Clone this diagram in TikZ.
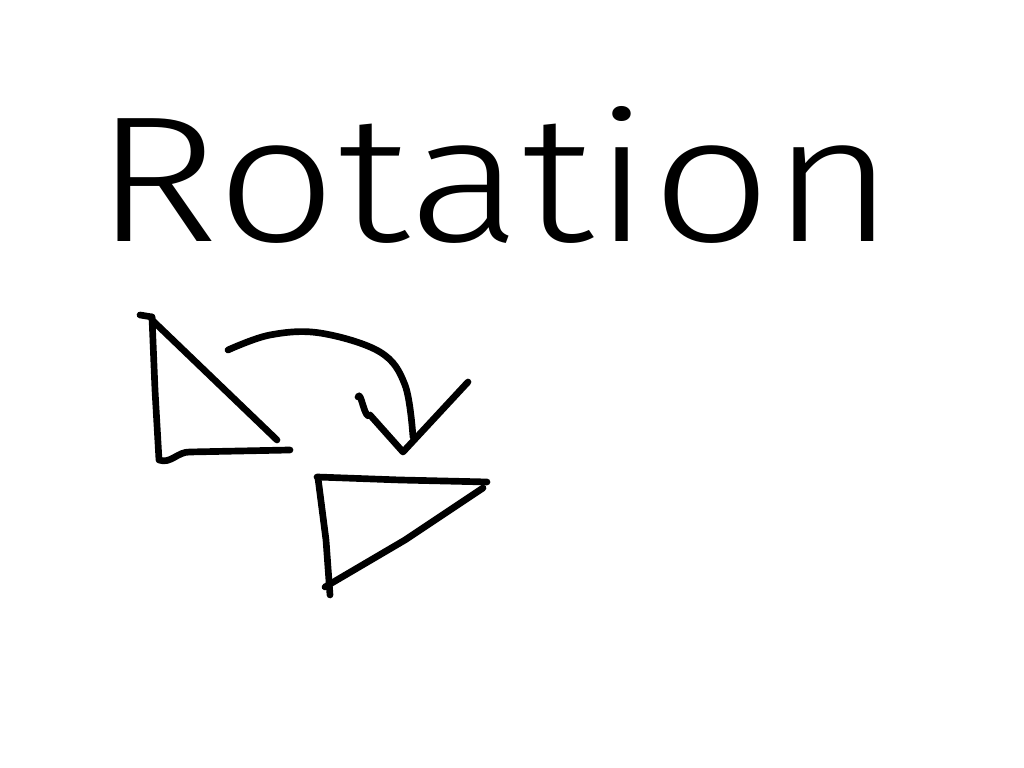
\documentclass[tikz,border=0pt]{standalone}
\usepackage{fontspec}
\newfontfamily\handfont{Fira Sans Light}
\begin{document}
\begin{tikzpicture}[x=.01cm,y=-.01cm,pen/.style={line width=1.9pt,line cap=round,line join=round}]
\useasboundingbox (0,0) rectangle (1024,768);
    \node (title) at (495,242)[anchor=base,inner sep=0,xscale=1.18]{\fontsize{51pt}{60pt}\handfont Rotation};
% first triangle
\draw[pen](140,315)--(152,317);
\draw[pen](152,317)--(155,390)--(159,460) to[out=-20,in=178](190,452)--(290,450);
\draw[pen](152,320)--(277,440);
% arrow
\draw[pen] plot[smooth,tension=.6] coordinates{(228,350)(270,335)(320,333)(380,352)(405,385)(413,437)};
\draw[pen](358,397)to[out=70,in=-130](370,415)--(403,452)--(468,382);
% second triangle
\draw[pen](317,477)--(400,480)--(487,482);
\draw[pen](318,478)--(326,540)--(330,595);
\draw[pen](325,587)--(405,540)--(483,488);
\end{tikzpicture}
\end{document}
